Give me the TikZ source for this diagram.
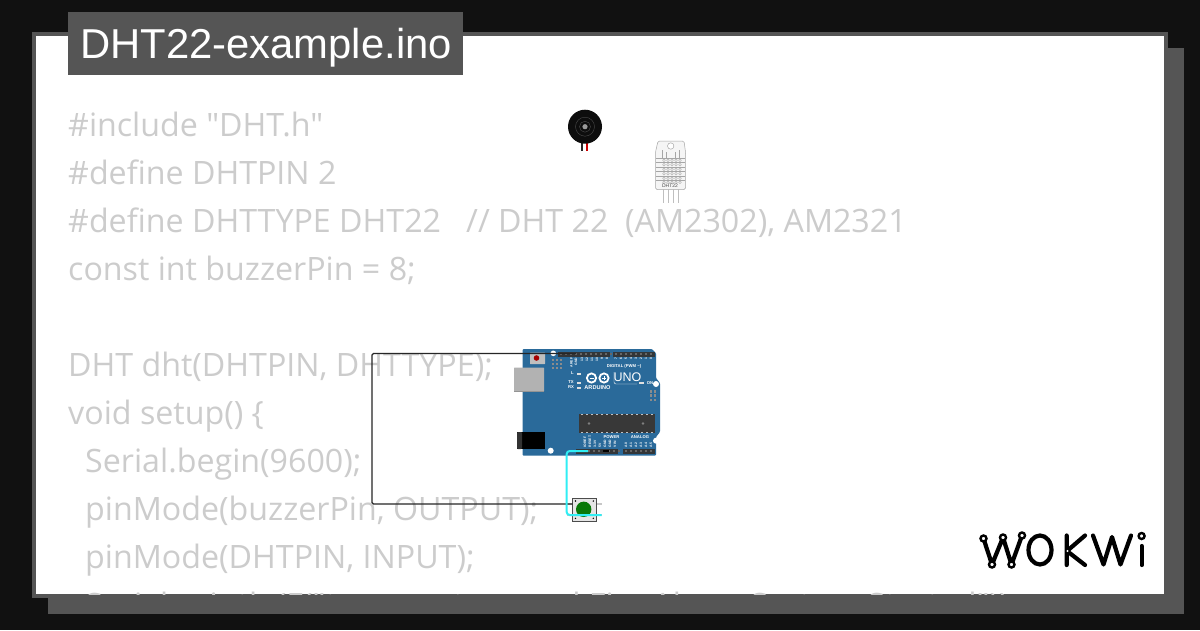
\documentclass[tikz,border=0pt]{standalone}
\usepackage{fontspec}
\setmainfont{Open Sans}[Ligatures=TeXOff]
\newfontfamily\titlefont{Liberation Sans}
\newfontfamily\smallfont{Liberation Sans}
\definecolor{bgdark}{HTML}{111111}
\definecolor{frame}{HTML}{555555}
\definecolor{codegrey}{HTML}{CCCCCC}
\definecolor{board}{HTML}{2A6A9A}
\definecolor{header}{HTML}{333638}
\definecolor{wirecyan}{HTML}{30EEF4}
\definecolor{btngreen}{HTML}{087808}
\tikzset{
  codeline/.style={anchor=base west,inner sep=0pt,text=codegrey,font=\fontsize{32.2}{33}\selectfont},
  tiny label/.style={inner sep=0pt,text=white,font=\smallfont\bfseries\fontsize{4.2}{4.5}\selectfont},
  pin label/.style={inner sep=0pt,text=white,rotate=90,font=\smallfont\bfseries\fontsize{3.4}{3.5}\selectfont},
  hole/.style={fill=white,draw=none},
  logo/.style={draw=black,line width=4.2pt,line cap=round,line join=round},
  logodot/.style={draw=black,fill=white,line width=2.4pt},
  blackwire/.style={draw=black!85,line width=1.2pt,rounded corners=1.5pt},
  cyanwire/.style={draw=wirecyan,line width=2pt,rounded corners=3pt},
  dhtline/.style={draw=black!35,line width=.5pt},
}
\begin{document}
\begin{tikzpicture}[x=1pt,y=-1pt]
\useasboundingbox (0,0) rectangle (1200,630);
\fill[bgdark] (0,0) rectangle (1200,630);
\fill[frame] (48,48) rectangle (1184,614);
\fill[frame] (32,32) rectangle (1168,598);
\fill[white] (36,36) rectangle (1164,594);
\begin{scope}
\clip (36,36) rectangle (1164,594);
\node[codeline] (c1) at (68,136) {\#include "DHT.h"};
\node[codeline] (c2) at (68,184) {\#define DHTPIN 2};
\node[codeline] (c3) at (68,232) {\#define DHTTYPE DHT22\ \ \ // DHT 22\ \ (AM2302), AM2321};
\node[codeline] (c4) at (68,280) {const int buzzerPin = 8;};
\node[codeline] (c6) at (68,376) {DHT dht(DHTPIN, DHTTYPE);};
\node[codeline] (c7) at (68,424) {void setup() \{};
\node[codeline] (c8) at (85,472) {Serial.begin(9600);};
\node[codeline] (c9) at (85,520) {pinMode(buzzerPin, OUTPUT);};
\node[codeline] (c10) at (85,568) {pinMode(DHTPIN, INPUT);};
\node[codeline] (c11) at (85,616) {Serial.println(F("temperature and Fire Alarm System Started"));};
\end{scope}
% title
\fill[frame] (68,12) rectangle (463,75);
\node[anchor=base west,inner sep=0pt,text=white,font=\titlefont\fontsize{41.8}{42}\selectfont] (title) at (80,58) {DHT22-example.ino};

% buzzer
\fill[black!85] (581.4,143) rectangle (582.6,151);
\fill[red!80!black] (586.4,143) rectangle (587.6,151);
\fill[black!95] (585,126.7) circle (17);
\draw[black!70,line width=.4pt] (585,126.7) circle (9.5);
\draw[black!70,line width=.4pt] (585,126.7) circle (5.5);
\fill[black!40] (585,126.7) circle (2.6);

% DHT22
\fill[black!25] (662.8,189) rectangle (663.6,203);
\fill[black!25] (667.8,189) rectangle (668.6,203);
\fill[black!25] (672.8,189) rectangle (673.6,203);
\fill[black!25] (677.8,189) rectangle (678.6,203);
\filldraw[fill=white!96!black,draw=black!35,line width=.5pt,rounded corners=1.5pt]
  (658,141) -- (684,141) -- (685.5,152) -- (685.5,189.5) -- (655.5,189.5) -- (655.5,152) -- cycle;
\draw[dhtline,fill=white] (670.7,146) circle (3.2);
\foreach \yy in {158,162.5,167,171.5,176,180}{
  \draw[dhtline] (656,\yy) -- (685,\yy);
  \foreach \xx in {664,668,672,676,680}{\draw[black!35,line width=.35pt] (\xx,\yy+2.2) circle (1.4);}
}
\draw[dhtline] (662,150) -- (662,158) (666,152) -- (666,158) (675,152) -- (675,158) (679,150) -- (679,158);
\node[inner sep=0pt,text=black!70,font=\smallfont\fontsize{5}{5}\selectfont] (dhtname) at (670,185.6) {DHT22};

% Arduino
\filldraw[fill=board,draw=none,rounded corners=1pt]
  (522.7,349) -- (652,349) -- (656,353) -- (656,378) -- (660,383) -- (660,432) -- (656,437) -- (656,455.7) -- (522.7,455.7) -- cycle;
% usb, jack
\fill[black!30,rounded corners=.5pt] (514,367.5) rectangle (544,391.5);
\fill[black!42] (514,390.8) rectangle (544,392);
\fill[black] (517,432) rectangle (545,449);
\fill[black!80,rounded corners=.8pt] (517,432) rectangle (522,449);
% reset
\fill[black!25,rounded corners=.5pt] (530,352.5) rectangle (545,364);
\fill[red!65!black] (536.5,358) circle (2.8);
% holes
\fill[hole] (553.3,353.3) circle (2.8);
\fill[hole] (656,384) circle (3);
\fill[hole] (656,440.7) circle (3);
\fill[hole] (550.7,450.7) circle (3);
% ICSP
\foreach \xx in {553,557,561}{\foreach \yy in {360,364,368}{\fill[black!45] (\xx,\yy) +(-1.4,-1.4) rectangle +(1.4,1.4);}}
\foreach \xx in {651,655}{\foreach \yy in {391.5,395.5,400}{\fill[black!45] (\xx,\yy) +(-1.4,-1.4) rectangle +(1.4,1.4);}}
% headers
\fill[header] (557.5,351.7) rectangle (610,356.7);
\fill[header] (612.5,351.7) rectangle (654.5,356.7);
\fill[header] (576,448.5) rectangle (618,453.5);
\fill[header] (622.5,448.5) rectangle (654.5,453.5);
\foreach \xx in {560,565,...,610}{\fill[black!60] (\xx,353.4) rectangle +(1.6,1.6);}
\foreach \xx in {615,620,...,654}{\fill[black!60] (\xx,353.4) rectangle +(1.6,1.6);}
\foreach \xx in {578,583,...,618}{\fill[black!60] (\xx,450.2) rectangle +(1.6,1.6);}
\foreach \xx in {625,630,...,654}{\fill[black!60] (\xx,450.2) rectangle +(1.6,1.6);}
\fill[black] (603,450.3) rectangle (609,452);
% chip
\fill[black!78] (579,414) rectangle (654.5,433);
\foreach \xx in {581,586,...,652}{\fill[black!25] (\xx,414.2) rectangle +(2,1.2);\fill[black!25] (\xx,431.6) rectangle +(2,1.2);}
\fill[black!50] (589,423.5) circle (1.4);
\fill[black!50] (643,423.5) circle (1.4);
% logo
\draw[white,line width=1.8pt] (591.5,378) circle (4.6) (604,378) circle (4.6);
\draw[white,line width=.6pt] (589.5,378) -- (593.5,378) (602,378) -- (606,378) (604,376) -- (604,380);
\node[tiny label,font=\smallfont\bfseries\fontsize{5.6}{6}\selectfont] (ard) at (597.5,387.7) {ARDUINO};
\node[inner sep=0pt,text=white,font=\smallfont\fontsize{12.5}{13}\selectfont] (uno) at (627.5,377.5) {UNO};
\draw[white,line width=.4pt,rounded corners=2pt] (614,372) -- (614,384) -- (637,384);
\node[tiny label] (dig) at (624,366.8) {DIGITAL (PWM \textasciitilde)};
\node[tiny label] (pwr) at (611.5,437.3) {POWER};
\node[tiny label] (ana) at (640,437.3) {ANALOG};
\node[tiny label] (onl) at (650,383.5) {ON};
\fill[black!12] (639,381.8) rectangle (643.5,384.4);
\node[tiny label] (ll) at (572.5,373.5) {L};
\node[tiny label] (tx) at (571,382.5) {TX};
\node[tiny label] (rx) at (571,387.5) {RX};
\fill[black!12] (577,372.5) rectangle (581,374.7);
\fill[black!12] (577,381.5) rectangle (581,383.7);
\fill[black!12] (577,386.5) rectangle (581,388.7);
\foreach \xx/\ll in {585/IOREF,590/RESET,595/3.3V,600/5V,605/GND,610/GND,615/VIN}
  {\node[pin label,anchor=west] at (\xx,447.3) {\ll};}
\foreach \xx/\ll in {626/A0,631/A1,636/A2,641/A3,646/A4,651/A5}
  {\node[pin label,anchor=west] at (\xx,447.3) {\ll};}
\foreach \xx/\ll in {571.5/AREF,576/GND,582/13,587/12,592/11,597/10,602/9,607/8,616/7,621/6,626/5,631/4,636/3,641/2,646/1,651/0}
  {\node[pin label,anchor=east] at (\xx,357.7) {\ll};}

% button
\fill[black!22] (596,502.5) rectangle (602,505);
\fill[black!22] (596,513.5) rectangle (602,516);
\fill[black!22] (567,502.5) rectangle (573,505);
\fill[black!22] (567,513.5) rectangle (573,516);
\filldraw[fill=black!10,draw=black!70,line width=.9pt] (572.7,498.3) rectangle (596,521);
\foreach \xx in {575.5,593.3}{\foreach \yy in {501,518.3}{\fill[black] (\xx,\yy) circle (.8);}}
\fill[btngreen] (583.7,509.3) circle (7.7);

% wires
\coordinate (unoGnd) at (576,353.5);
\coordinate (btnL) at (572.7,504);
\coordinate (unoPin) at (588,451);
\coordinate (btnR) at (601.5,515);
\draw[blackwire] (unoGnd) -| (372,504) -- (btnL);
\draw[cyanwire] (unoPin) -- (566.7,451) |- (btnR);

% Wokwi logo
\begin{scope}[logo]
\draw (983.5,538.5) -- (992,564.5) -- (1003,537.5) -- (1011.5,564.5) -- (1022,535.5);
\draw (1040,550) ellipse (11.5 and 14.5);
\draw (1066.7,535.5) -- (1066.7,565) (1067,551) -- (1085,535.5) (1067,551) -- (1085,565);
\draw (1093,535.5) -- (1103.5,564.5) -- (1112,537) -- (1120.5,564.5) -- (1131,535.5);
\draw (1141.6,546) -- (1141.6,565);
\end{scope}
\foreach \nm/\xx/\yy in {a/983.5/538.5,b/1003/537.5,c/1022/535.5,d/992/564.5,e/1011.5/564.5,g/1141.6/536}
  {\filldraw[logodot] (\xx,\yy) circle (3);}
\fill[white] (1067.5,551) circle (1.2);
\end{tikzpicture}
\end{document}
